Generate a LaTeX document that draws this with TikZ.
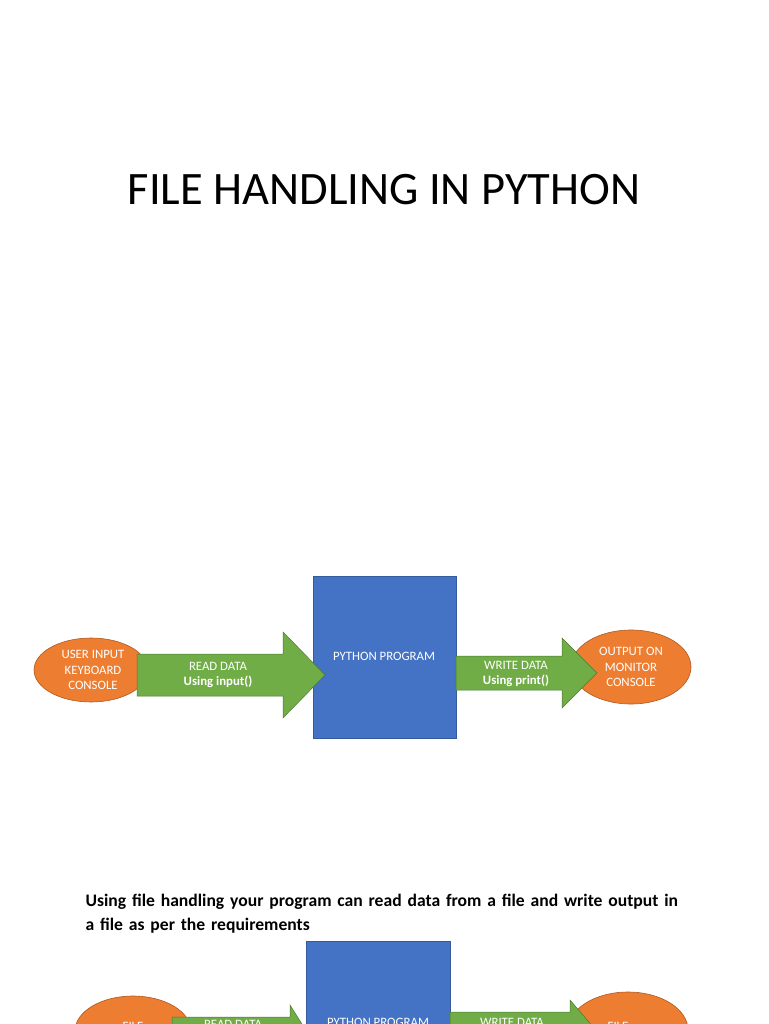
\documentclass[tikz,border=0pt]{standalone}
\usepackage{fontspec}
\setmainfont{Carlito}
\definecolor{org}{HTML}{ED7D31}
\definecolor{grn}{HTML}{70AD47}
\definecolor{blu}{HTML}{4472C4}
\definecolor{edg}{HTML}{AE5A21}
\begin{document}
\begin{tikzpicture}[x=1pt,y=-1pt,
  lbl/.style={text=white, font=\fontsize{12.8}{15.5}\selectfont, align=center},
  arr/.style={fill=grn, draw=grn!70!black, line width=0.5pt},
  prog/.style={fill=blu, draw=blu!80!black, line width=0.5pt}]
\useasboundingbox (0,0) rectangle (768,1024);
\clip (0,0) rectangle (768,1024);
\node[text=black, font=\fontsize{46.5}{52}\selectfont] (title) at (384,190) {FILE HANDLING IN PYTHON};
% top diagram
\fill[org, draw=edg, line width=0.6pt] (91,670) ellipse [x radius=57, y radius=32];
\node[lbl] (u) at (93,670) {USER INPUT\\KEYBOARD\\CONSOLE};
\fill[prog] (313,576) rectangle (456,738);
\node[lbl] (p) at (384,656) {PYTHON PROGRAM};
\path[arr] (137,654) -- (283,654) -- (283,632) -- (325,675) -- (283,718) -- (283,696) -- (137,696) -- cycle;
\node[lbl] (r) at (218,675) {READ DATA\\\textbf{Using input()}};
\fill[org, draw=edg, line width=0.6pt] (631,667) ellipse [x radius=60, y radius=37];
\path[arr] (456,656) -- (562,656) -- (562,638) -- (597,673) -- (562,708) -- (562,690) -- (456,690) -- cycle;
\node[lbl] (w) at (516,674) {WRITE DATA\\\textbf{Using print()}};
\node[lbl] (o) at (631,667) {OUTPUT ON\\MONITOR\\CONSOLE};
% text
\node[anchor=north west, align=left, font=\bfseries\fontsize{17.6}{24}\selectfont, text width=660] (t2) at (82,891) {Using file handling your program can read data from a file and write output in\\a file as per the requirements};
% bottom diagram
\fill[org, draw=edg, line width=0.6pt] (133,1031) ellipse [x radius=58, y radius=35];
\fill[prog] (306,941) rectangle (450,1100);
\path[arr] (172,1017) -- (290,1017) -- (290,1005) -- (312,1040) -- (290,1075) -- (290,1063) -- (172,1063) -- cycle;
\fill[org, draw=edg, line width=0.6pt] (628,1030) ellipse [x radius=60, y radius=38];
\path[arr] (450,1012) -- (570,1012) -- (570,1000) -- (600,1035) -- (570,1070) -- (570,1058) -- (450,1058) -- cycle;
\node[lbl] (f1) at (133,1026) {FILE};
\node[lbl] (r2) at (233,1024) {READ DATA};
\node[lbl] (p2) at (378,1022) {PYTHON PROGRAM};
\node[lbl] (w2) at (512,1022) {WRITE DATA};
\node[lbl] (f2) at (618,1026) {FILE};
\end{tikzpicture}
\end{document}
